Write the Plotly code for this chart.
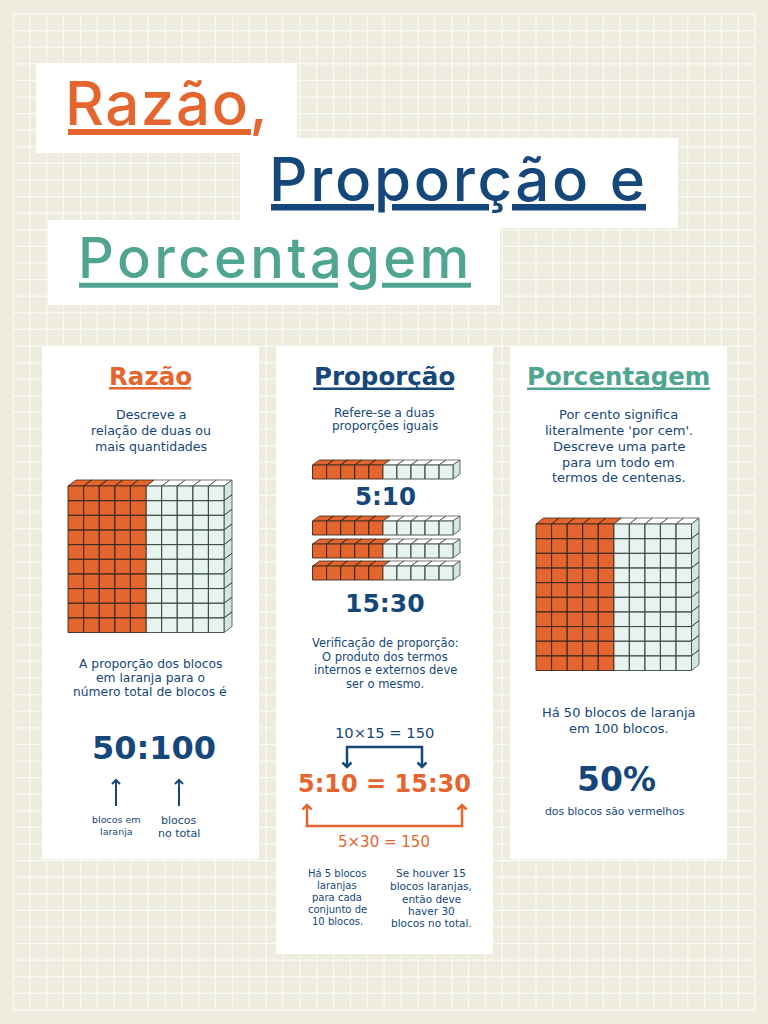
import plotly.graph_objects as go

# colours
BG = '#EEECDF'
GRID = '#F8FAF4'
NAVY = '#15477A'
ORANGE = '#E4652E'
GREEN = '#4FA58F'
LIGHT = '#E6F3EF'
SIDE = '#D3E6E1'
BODY = 'DejaVu Sans'
TITLE = 'Inter'

# block counts
big_rows = 10
big_cols = 10
big_orange = 5
bar_rows = 1
bar_cols = 10
bar_orange = 5

title_words = ['Razão,', 'Proporção e', 'Porcentagem']
heads = ['Razão', 'Proporção', 'Porcentagem']

razao_intro = ['Descreve a', 'relação de duas ou', 'mais quantidades']
razao_mid = ['A proporção dos blocos', 'em laranja para o', 'número total de blocos é']
razao_ratio = '50:100'
razao_left = ['blocos em', 'laranja']
razao_right = ['blocos', 'no total']

prop_intro = ['Refere-se a duas', 'proporções iguais']
prop_one = '5:10'
prop_three = '15:30'
prop_check = ['Verificação de proporção:', 'O produto dos termos',
              'internos e externos deve', 'ser o mesmo.']
prop_top = '10×15 = 150'
prop_eq = '5:10 = 15:30'
prop_bottom = '5×30 = 150'
prop_left = ['Há 5 blocos', 'laranjas', 'para cada', 'conjunto de', '10 blocos.']
prop_right = ['Se houver 15', 'blocos laranjas,', 'então deve', 'haver 30', 'blocos no total.']

pct_intro = ['Por cento significa', "literalmente 'por cem'.", 'Descreve uma parte',
             'para um todo em', 'termos de centenas.']
pct_mid = ['Há 50 blocos de laranja', 'em 100 blocos.']
pct_big = '50%'
pct_low = 'dos blocos são vermelhos'

fig = go.Figure()
notes = []


def text(x, y, s, size, color, font=BODY, bold=False):
    if bold:
        s = '<b>' + s + '</b>'
    notes.append(dict(x=x, y=y, text=s, showarrow=False, xanchor='center', yanchor='middle',
                      font=dict(family=font, size=size, color=color)))


def title(x, y, s, size, color, spacing):
    s = '<span style="letter-spacing:%spx">%s</span>' % (spacing, s)
    notes.append(dict(x=x, y=y, text=s, showarrow=False, xanchor='center', yanchor='middle',
                      font=dict(family=TITLE, size=size, color=color, weight=500)))


def lines(x, ys, rows, size, color=NAVY):
    for y, s in zip(ys, rows):
        text(x, y, s, size, color)


def polys(items, fill, edge, width=0.9):
    xs, ys = [], []
    for p in items:
        xs += [a for a, b in p] + [p[0][0], None]
        ys += [b for a, b in p] + [p[0][1], None]
    fig.add_trace(go.Scatter(x=xs, y=ys, mode='lines', fill='toself', fillcolor=fill,
                             line=dict(color=edge, width=width), hoverinfo='skip'))


def bar(x0, y0, x1, y1, color):
    polys([[(x0, y0), (x1, y0), (x1, y1), (x0, y1)]], color, color, 0)


def blocks(x0, y0, x1, y1, cols, rows, orange, dx, dy):
    w = (x1 - x0) / cols
    h = (y1 - y0) / rows
    front_o, front_l, top_o, top_l, side = [], [], [], [], []
    for c in range(cols):
        xa = x0 + c * w
        xb = xa + w
        top = [(xa, y0), (xb, y0), (xb + dx, y0 - dy), (xa + dx, y0 - dy)]
        (top_o if c < orange else top_l).append(top)
        for r in range(rows):
            ya = y0 + r * h
            cell = [(xa, ya), (xb, ya), (xb, ya + h), (xa, ya + h)]
            (front_o if c < orange else front_l).append(cell)
    for r in range(rows):
        ya = y0 + r * h
        side.append([(x1, ya), (x1 + dx, ya - dy), (x1 + dx, ya + h - dy), (x1, ya + h)])
    polys(top_l, '#FFFFFF', '#555555', 0.8)
    polys(top_o, ORANGE, '#3A2A20', 0.8)
    polys(side, SIDE, '#3A4A46', 0.8)
    polys(front_l, LIGHT, '#3A4A46', 0.9)
    polys(front_o, ORANGE, '#3A2A20', 0.9)


def arrow(pts, tips, color, width=2.2, head=4):
    xs = [p[0] for p in pts] + [None]
    ys = [p[1] for p in pts] + [None]
    for x, y, way in tips:
        s = head if way == 'up' else -head
        xs += [x - head, x, x + head, None]
        ys += [y + s, y, y + s, None]
    fig.add_trace(go.Scatter(x=xs, y=ys, mode='lines', line=dict(color=color, width=width),
                             hoverinfo='skip'))


# background paper grid
gx, gy = [], []
for i in range(45):
    v = 13 + i * 16.87
    gx += [v, v, None]
    gy += [14, 1010, None]
for i in range(61):
    v = 14 + i * 16.6
    gx += [13, 755, None]
    gy += [v, v, None]
fig.add_trace(go.Scatter(x=gx, y=gy, mode='lines', line=dict(color=GRID, width=1.2), hoverinfo='skip'))

# title plates and cards sit over the grid
plates = [(36, 63, 297, 153), (240, 138, 678, 228), (48, 220, 500, 305),
          (42, 346, 259, 859), (276, 346, 493, 954), (510, 346, 727, 859)]
polys([[(a, b), (c, b), (c, d), (a, d)] for a, b, c, d in plates], '#FFFFFF', '#FFFFFF', 0)

# title, underline breaks where descenders cross it
title(167, 103, title_words[0], 60, ORANGE, 1.6)
title(458.5, 179, title_words[1], 60, NAVY, 2.7)
title(275, 258, title_words[2], 56, GREEN, 3.4)
bar(68, 129, 251, 135, ORANGE)
for a, b in [(271, 374), (392, 489), (512, 646)]:
    bar(a, 204, b, 210.5, NAVY)
for a, b in [(79, 338), (382, 471)]:
    bar(a, 282.7, b, 287.7, GREEN)

# card 1
text(150, 376, heads[0], 24.5, ORANGE, bold=True)
bar(109, 387, 191, 389.5, ORANGE)
lines(151, [414, 430, 446], razao_intro, 12.6)
blocks(68, 486, 224, 632.5, big_cols, big_rows, big_orange, 8, 6)
lines(150, [664, 678, 692], razao_mid, 12.3)
text(154, 748, razao_ratio, 32, NAVY, bold=True)
arrow([(116, 806), (116, 780)], [(116, 780, 'up')], NAVY, 2, 4)
arrow([(179, 806), (179, 780)], [(179, 780, 'up')], NAVY, 2, 4)
lines(116, [819, 831], razao_left, 9.5)
lines(179, [820, 833], razao_right, 11)

# card 2
text(384, 376, heads[1], 24.5, NAVY, bold=True)
bar(313, 387.5, 454, 390, NAVY)
lines(384.5, [413, 426], prop_intro, 12)
for y0, y1 in [(465, 479), (521, 535), (544, 558), (566, 580)]:
    blocks(312.5, y0, 453, y1, bar_cols, bar_rows, bar_orange, 7, 5)
text(385, 496, prop_one, 24.5, NAVY, bold=True)
text(385, 603, prop_three, 25, NAVY, bold=True)
lines(385, [643, 657, 670, 684], prop_check, 11.5)
text(384, 732, prop_top, 14.7, NAVY)
arrow([(347, 766), (347, 747), (422, 747), (422, 766)],
      [(347, 767, 'down'), (422, 767, 'down')], NAVY, 2.5, 4.5)
text(384, 784, prop_eq, 24, ORANGE, bold=True)
arrow([(307, 806), (307, 826), (462, 826), (462, 806)],
      [(307, 805, 'up'), (462, 805, 'up')], ORANGE, 2.5, 4.5)
text(384, 842, prop_bottom, 15, ORANGE)
lines(337, [873, 885, 897, 909, 921.5], prop_left, 10)
lines(431, [873, 885.5, 898.5, 911, 923], prop_right, 10.5)

# card 3
text(618.5, 376, heads[2], 24.5, GREEN, bold=True)
bar(527, 387.5, 710, 390, GREEN)
lines(618.5, [414, 430, 446, 462, 477], pct_intro, 13)
blocks(536, 524, 691.5, 670.5, big_cols, big_rows, big_orange, 7.5, 6)
lines(618.5, [712, 728], pct_mid, 13)
text(616, 779, pct_big, 33, NAVY, bold=True)
text(614.5, 811, pct_low, 10.8, NAVY)

fig.update_layout(
    width=768, height=1024,
    margin=dict(l=0, r=0, t=0, b=0),
    paper_bgcolor=BG, plot_bgcolor=BG,
    showlegend=False, hovermode=False,
    xaxis=dict(range=[0, 768], visible=False, fixedrange=True),
    yaxis=dict(range=[1024, 0], visible=False, fixedrange=True),
    annotations=notes,
)

fig.write_html("out.html", config=dict(displayModeBar=False),
               post_script="document.body.style.margin='0';")
